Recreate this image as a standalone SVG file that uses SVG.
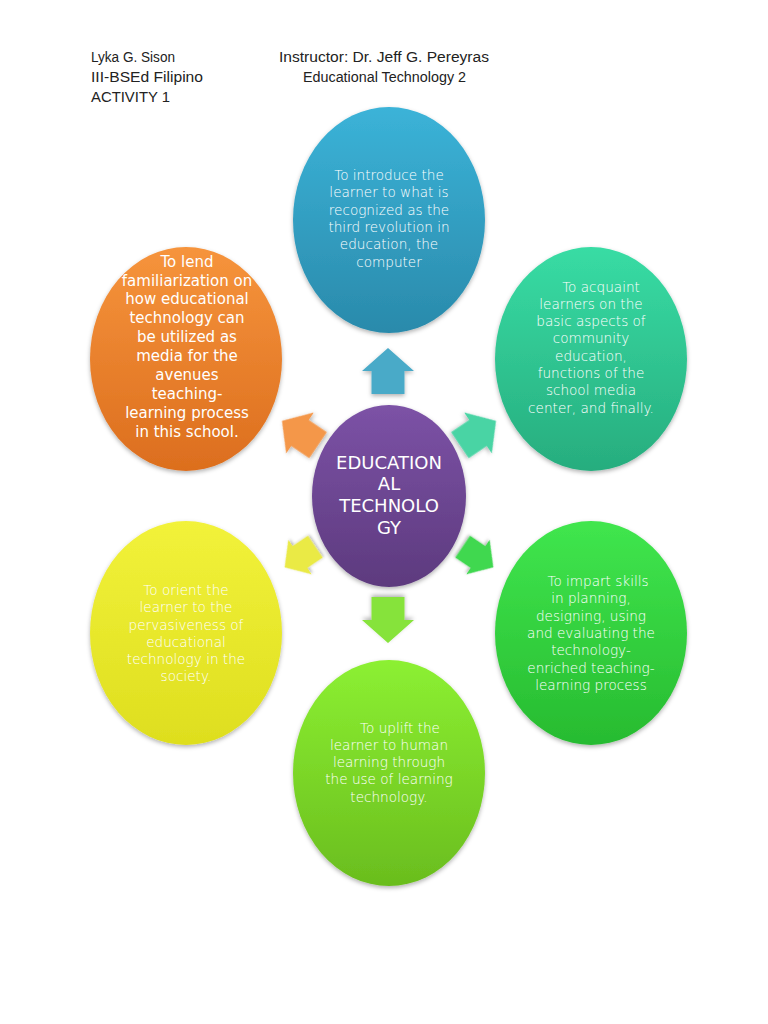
<svg xmlns="http://www.w3.org/2000/svg" width="768" height="1024" viewBox="0 0 768 1024">
<defs>
<linearGradient id="gBlue" x1="0" y1="0" x2="0" y2="1"><stop offset="0" stop-color="#3bb3d8"/><stop offset="1" stop-color="#2a8aab"/></linearGradient>
<linearGradient id="gOrange" x1="0" y1="0" x2="0" y2="1"><stop offset="0" stop-color="#f6943c"/><stop offset="1" stop-color="#dc6e1e"/></linearGradient>
<linearGradient id="gTeal" x1="0" y1="0" x2="0" y2="1"><stop offset="0" stop-color="#38dca4"/><stop offset="1" stop-color="#27ad7e"/></linearGradient>
<linearGradient id="gYellow" x1="0" y1="0" x2="0" y2="1"><stop offset="0" stop-color="#f2f23a"/><stop offset="1" stop-color="#dede1e"/></linearGradient>
<linearGradient id="gGreen" x1="0" y1="0" x2="0" y2="1"><stop offset="0" stop-color="#40e64e"/><stop offset="1" stop-color="#27bb30"/></linearGradient>
<linearGradient id="gLime" x1="0" y1="0" x2="0" y2="1"><stop offset="0" stop-color="#8cf032"/><stop offset="1" stop-color="#6abd1e"/></linearGradient>
<linearGradient id="gPurple" x1="0" y1="0" x2="0" y2="1"><stop offset="0" stop-color="#7c52a6"/><stop offset="1" stop-color="#5d3a7e"/></linearGradient>
<filter id="sh" x="-20%" y="-20%" width="140%" height="140%"><feDropShadow dx="0" dy="2" stdDeviation="2" flood-color="#000" flood-opacity="0.3"/></filter>
<path id="arr" d="M0,-23 L26,0 L16.5,0 L16.5,23 L-16.5,23 L-16.5,0 L-26,0 Z"/>
</defs>
<style>
.hdr{font-family:"Liberation Sans",sans-serif;font-size:14px;fill:#222}
.t{font-family:"DejaVu Sans",sans-serif;font-size:13.6px;fill:#fff;text-anchor:middle;font-weight:300}
.tb{font-family:"DejaVu Sans",sans-serif;font-size:15px;fill:#fff;text-anchor:middle}
.tc{font-family:"DejaVu Sans",sans-serif;font-size:18px;fill:#fff;text-anchor:middle}
.e{filter:url(#sh)}
</style>
<rect width="768" height="1024" fill="#fff"/>
<g id="header">
<text class="hdr" x="91" y="62" textLength="84" lengthAdjust="spacingAndGlyphs">Lyka G. Sison</text>
<text class="hdr" x="91" y="82" textLength="112" lengthAdjust="spacingAndGlyphs">III-BSEd Filipino</text>
<text class="hdr" x="91" y="102" textLength="79" lengthAdjust="spacingAndGlyphs">ACTIVITY 1</text>
<text class="hdr" x="279" y="62" textLength="210" lengthAdjust="spacingAndGlyphs">Instructor: Dr. Jeff G. Pereyras</text>
<text class="hdr" x="303" y="82" textLength="163" lengthAdjust="spacingAndGlyphs">Educational Technology 2</text>
</g>
<g id="connectors">
<use href="#arr" transform="translate(388,371)" fill="#4aaac8" filter="url(#sh)"/>
<use href="#arr" transform="translate(388,620) rotate(180)" fill="#86e33a" filter="url(#sh)"/>
<use href="#arr" transform="translate(300,433) rotate(-56) scale(0.95)" fill="#f4974a" filter="url(#sh)"/>
<use href="#arr" transform="translate(478,433) rotate(56) scale(0.95)" fill="#48d4a4" filter="url(#sh)"/>
<use href="#arr" transform="translate(300,557) rotate(-124) scale(0.8)" fill="#eaea44" filter="url(#sh)"/>
<use href="#arr" transform="translate(478,557) rotate(124) scale(0.8)" fill="#3fd850" filter="url(#sh)"/>
</g>
<g id="n-top">
<ellipse class="e" cx="389" cy="220" rx="96" ry="113" fill="url(#gBlue)"/>
<text class="t" x="389" y="180">To introduce the</text>
<text class="t" x="389" y="197">learner to what is</text>
<text class="t" x="389" y="215">recognized as the</text>
<text class="t" x="389" y="232">third revolution in</text>
<text class="t" x="389" y="249">education, the</text>
<text class="t" x="389" y="267">computer</text>
</g>
<g id="n-orange">
<ellipse class="e" cx="186" cy="359" rx="96" ry="112" fill="url(#gOrange)"/>
<text class="tb" x="187" y="267">To lend</text>
<text class="tb" x="187" y="286">familiarization on</text>
<text class="tb" x="187" y="304">how educational</text>
<text class="tb" x="187" y="323">technology can</text>
<text class="tb" x="187" y="342">be utilized as</text>
<text class="tb" x="187" y="361">media for the</text>
<text class="tb" x="187" y="380">avenues</text>
<text class="tb" x="187" y="399">teaching-</text>
<text class="tb" x="187" y="418">learning process</text>
<text class="tb" x="187" y="437">in this school.</text>
</g>
<g id="n-teal">
<ellipse class="e" cx="591" cy="359" rx="96" ry="112" fill="url(#gTeal)"/>
<text class="t" x="601" y="292">To acquaint</text>
<text class="t" x="591" y="309">learners on the</text>
<text class="t" x="591" y="326">basic aspects of</text>
<text class="t" x="591" y="343">community</text>
<text class="t" x="591" y="361">education,</text>
<text class="t" x="591" y="378">functions of the</text>
<text class="t" x="591" y="395">school media</text>
<text class="t" x="591" y="413">center, and finally.</text>
</g>
<g id="n-yellow">
<ellipse class="e" cx="186" cy="633" rx="96" ry="112" fill="url(#gYellow)"/>
<text class="t" x="186" y="595">To orient the</text>
<text class="t" x="186" y="612">learner to the</text>
<text class="t" x="186" y="630">pervasiveness of</text>
<text class="t" x="186" y="647">educational</text>
<text class="t" x="186" y="664">technology in the</text>
<text class="t" x="186" y="681">society.</text>
</g>
<g id="n-green">
<ellipse class="e" cx="591" cy="633" rx="96" ry="112" fill="url(#gGreen)"/>
<text class="t" x="598" y="586">To impart skills</text>
<text class="t" x="591" y="603">in planning,</text>
<text class="t" x="591" y="621">designing, using</text>
<text class="t" x="591" y="638">and evaluating the</text>
<text class="t" x="591" y="655">technology-</text>
<text class="t" x="591" y="673">enriched teaching-</text>
<text class="t" x="591" y="690">learning process</text>
</g>
<g id="n-lime">
<ellipse class="e" cx="389" cy="773" rx="96" ry="113" fill="url(#gLime)"/>
<text class="t" x="400" y="733">To uplift the</text>
<text class="t" x="389" y="750">learner to human</text>
<text class="t" x="389" y="767">learning through</text>
<text class="t" x="389" y="784">the use of learning</text>
<text class="t" x="389" y="802">technology.</text>
</g>
<g id="n-center">
<ellipse class="e" cx="389" cy="496" rx="77" ry="91" fill="url(#gPurple)"/>
<text class="tc" x="389" y="469">EDUCATION</text>
<text class="tc" x="389" y="490">AL</text>
<text class="tc" x="389" y="512">TECHNOLO</text>
<text class="tc" x="389" y="534">GY</text>
</g>
</svg>
